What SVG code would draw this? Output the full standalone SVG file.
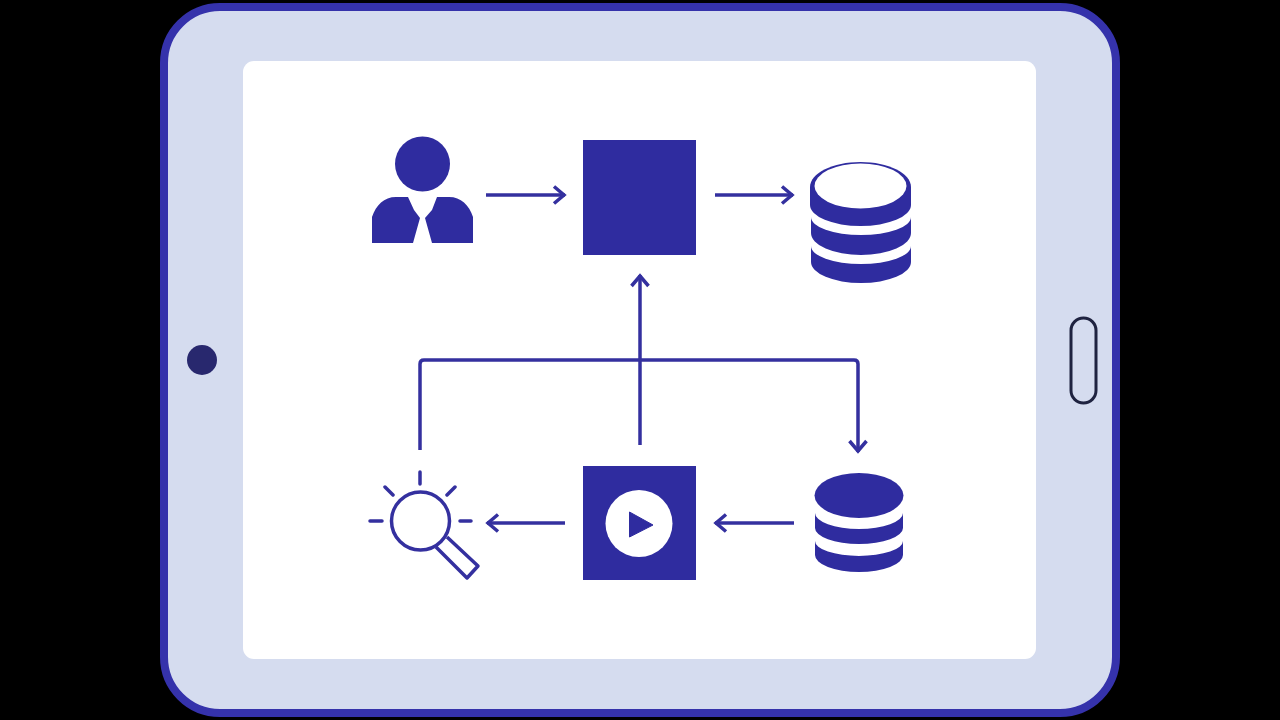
<svg xmlns="http://www.w3.org/2000/svg" width="1280" height="720" viewBox="0 0 1280 720">
<style>
.f{fill:#2f2c9f}
.l{fill:none;stroke:#34309f;stroke-width:3.5;stroke-linecap:round;stroke-linejoin:round}
.c{fill:none;stroke:#34309f;stroke-width:3.5;stroke-linejoin:round}
</style>
<defs>
<marker id="a" markerUnits="userSpaceOnUse" markerWidth="22" markerHeight="22" refX="16" refY="11" orient="auto">
<path d="M5 2.500 L15 11 L5 19.500" fill="none" stroke="#34309f" stroke-width="3.500"/>
</marker>
</defs>
<rect width="1280" height="720" fill="#000"/>
<g id="tablet">
<rect x="164" y="7" width="952" height="706" rx="56" fill="#d5dcef" stroke="#3532ab" stroke-width="8"/>
<rect x="243" y="61" width="793" height="598" rx="11" fill="#fff"/>
<circle cx="202" cy="360" r="15" fill="#28286e"/>
<rect x="1071" y="318" width="25" height="85" rx="12.5" fill="none" stroke="#1f2340" stroke-width="3"/>
</g>
<g id="connectors">
<path class="c" marker-end="url(#a)" d="M486 195H565"/>
<path class="c" marker-end="url(#a)" d="M715 195H793"/>
<path class="c" marker-end="url(#a)" d="M640 445V275"/>
<path class="c" d="M420 450V364Q420 360 424 360H854Q858 360 858 364V452" marker-end="url(#a)"/>
<path class="c" marker-end="url(#a)" d="M565 523H487"/>
<path class="c" marker-end="url(#a)" d="M794 523H715"/>
</g>
<g id="user">
<circle cx="422.500" cy="164" r="27.500" class="f"/>
<path class="f" d="M372 243V217C376 205 384 197 396 197H408L414 210L420 218L413 243Z"/>
<path class="f" d="M473 243V217C469 205 461 197 449 197H437L432 210L425 218L432 243Z"/>
</g>
<g id="server">
<rect x="583" y="140" width="113" height="115" class="f"/>
</g>
<g id="db-top">
<path class="f" d="M810 187C810 173 833 162 860.500 162C888 162 911 173 911 187V205A50.500 21 0 0 1 810 205Z"/>
<ellipse cx="860.500" cy="186" rx="46" ry="22.500" fill="#fff"/>
<path class="f" d="M811 217A50 18 0 0 0 911 217V233A50 22 0 0 1 811 233Z"/>
<path class="f" d="M811 246A50 18 0 0 0 911 246V262A50 21 0 0 1 811 262Z"/>
</g>
<g id="search">
<circle cx="420.500" cy="521" r="29" fill="none" stroke="#34309f" stroke-width="3.500"/>
<path class="c" d="M447 537L478 566L467 578L436 547"/>
<path class="l" d="M420 472V484M385 487L393 495M455 487L447 495M370 521H382M460 521H471"/>
</g>
<g id="video">
<rect x="583" y="466" width="113" height="114" class="f"/>
<circle cx="639" cy="523.500" r="33.500" fill="#fff"/>
<path class="f" d="M629.500 512L653 525L629.500 537Z" stroke="#2f2c9f" stroke-width="1" stroke-linejoin="round"/>
</g>
<g id="db-bottom">
<ellipse cx="859" cy="495.500" rx="44.500" ry="22.500" class="f"/>
<path class="f" d="M815 513A44 16 0 0 0 903 513V528A44 16 0 0 1 815 528Z"/>
<path class="f" d="M815 541A44 15 0 0 0 903 541V555A44 17 0 0 1 815 555Z"/>
</g>
</svg>
